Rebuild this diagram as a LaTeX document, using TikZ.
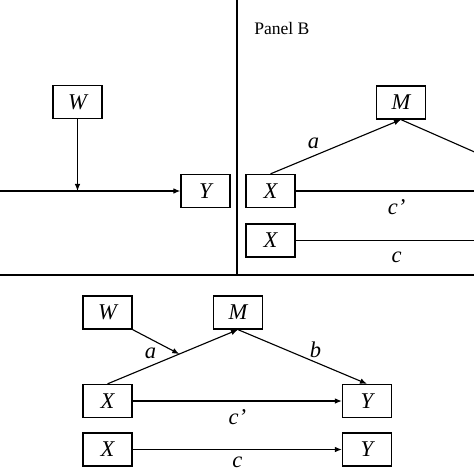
\documentclass[tikz,border=0pt]{standalone}
\usepackage{fontspec}
\setmainfont{Liberation Serif}
\usetikzlibrary{arrows.meta}

\begin{document}
\begin{tikzpicture}[x=0.025cm,y=-0.025cm,
    >={Latex[length=5pt,width=4pt]},
    box/.style={draw,line width=0.9pt,minimum width=1.225cm,minimum height=0.825cm,
      inner sep=0pt,font=\fontsize{16}{16}\selectfont\itshape},
    lab/.style={inner sep=0pt,font=\fontsize{16}{16}\selectfont\itshape},
    link/.style={line width=0.8pt},
    frame/.style={line width=1.4pt}]
  \clip
    (0,0)
    rectangle
    (474,474);
  \draw[frame]
    (237,0)
    --
    (237,275);
  \draw[frame]
    (0,275)
    --
    (474,275);
  \node[box] (aW) at (77.5,102) {W};
  \node[box] (aY) at (205.5,191) {Y};
  \coordinate (aIn) at (-10,191);
  \draw[link,->]
    (aIn)
    --
    (aY);
  \draw[link,->]
    (aW)
    --
    (aW |- aIn);
  \node[anchor=west,inner sep=0pt,font=\fontsize{12.5}{12.5}\selectfont] (pB) at (254,28) {Panel B};
  \node[box] (bM) at (401,102.5) {M};
  \node[box] (bX) at (270.5,191) {X};
  \node[box] (bXtwo) at (270.5,240.5) {X};
  \coordinate (bOutM) at (520,172);
  \coordinate (bOut) at (520,191);
  \coordinate (bOuttwo) at (520,240.5);
  \draw[link,->]
    (bX.north)
    -- node[lab,pos=0.33,above=5pt] {a}
    (bM.south);
  \draw[link]
    (bM.south)
    --
    (bOutM);
  \draw[link]
    (bX)
    -- node[lab,pos=0.45,below=6pt] {c’}
    (bOut);
  \draw[link]
    (bXtwo)
    -- node[lab,pos=0.45,below=8pt] {c}
    (bOuttwo);
  \node[box] (cW) at (107.5,312.5) {W};
  \node[box] (cM) at (238,312.5) {M};
  \node[box] (cX) at (107.5,401) {X};
  \node[box] (cY) at (367,401) {Y};
  \node[box] (cXtwo) at (107.5,449.5) {X};
  \node[box] (cYtwo) at (367,449.5) {Y};
  \draw[link,->]
    (cX.north)
    -- coordinate[pos=0.55] (cMod) node[lab,pos=0.33,above=5pt] {a}
    (cM.south);
  \draw[link,->]
    (cW.south east)
    --
    (cMod);
  \draw[link,->]
    (cM.south)
    -- node[lab,pos=0.6,above=3pt] {b}
    (cY.north);
  \draw[link,->]
    (cX)
    -- node[lab,below=6pt] {c’}
    (cY);
  \draw[link,->]
    (cXtwo)
    -- node[lab,below=5pt] {c}
    (cYtwo);
\end{tikzpicture}
\end{document}
